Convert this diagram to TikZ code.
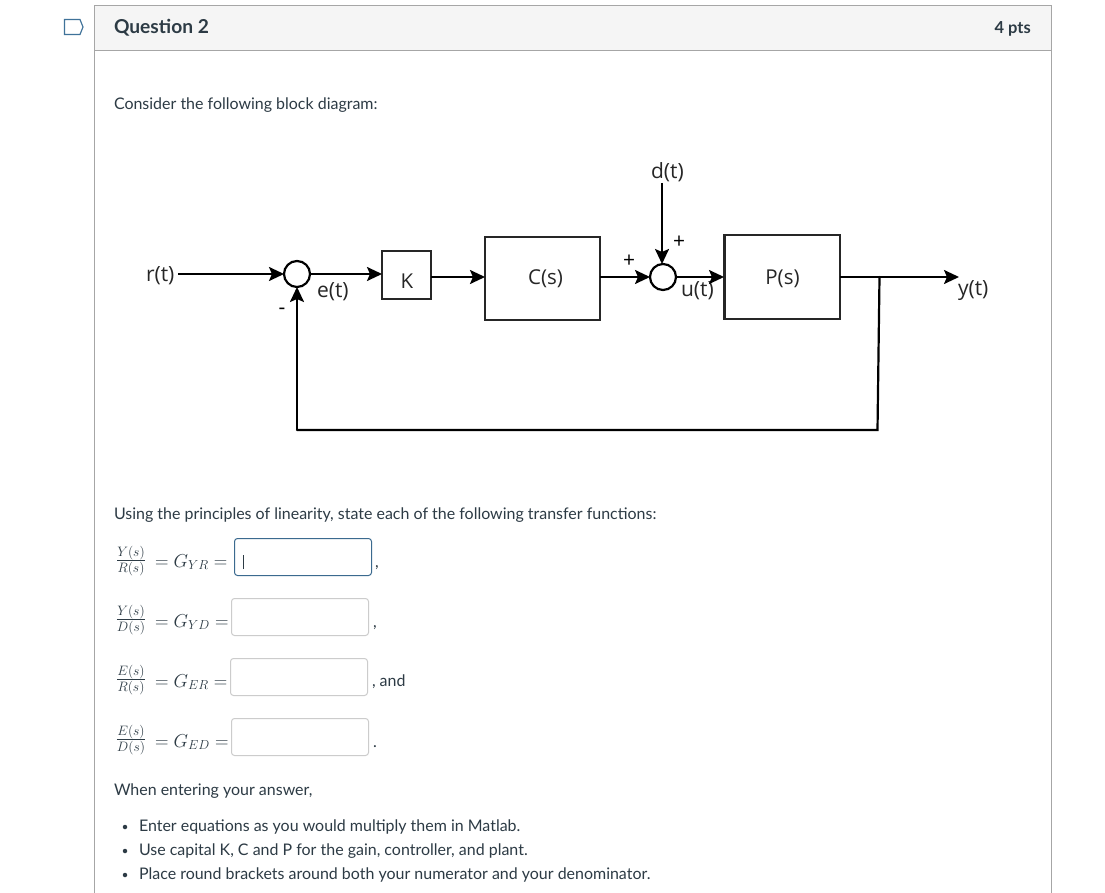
\documentclass[tikz,border=0pt]{standalone}
\usepackage{fix-cm}
\usepackage{fontspec}
\setmainfont{Lato}
\newfontfamily\diagfont{Open Sans}
\usetikzlibrary{arrows.meta}
\definecolor{ink}{HTML}{2D3B45}
\definecolor{panelline}{HTML}{A6A6A6}
\definecolor{headfill}{HTML}{F5F5F5}
\definecolor{flagblue}{HTML}{3F7299}
\definecolor{focusblue}{HTML}{3B6A8F}
\definecolor{boxgrey}{HTML}{CCCCCC}
\tikzset{
  txt/.style={anchor=base west,inner sep=0pt,outer sep=0pt,text=ink,font=\fontsize{15.97}{19}\selectfont},
  headtxt/.style={anchor=base west,inner sep=0pt,outer sep=0pt,text=ink,font=\fontsize{19.2}{24}\selectfont\bfseries},
  mathtxt/.style={anchor=center,inner sep=0pt,outer sep=0pt,text=ink,font=\fontsize{18.7}{22}\selectfont},
  fractxt/.style={anchor=center,inner sep=0pt,outer sep=0pt,text=ink,font=\fontsize{19.5}{25}\selectfont},
  lab/.style={anchor=base west,inner sep=0pt,outer sep=0pt,text=black!85,font=\diagfont\fontsize{21}{25}\selectfont},
  sign/.style={anchor=center,inner sep=0pt,outer sep=0pt,text=black,font=\diagfont\fontsize{21}{25}\selectfont},
  blockbox/.style={draw=black!85,line width=2.2pt,fill=white,inner sep=0pt,outer sep=0pt,anchor=north west},
  blocklab/.style={anchor=center,inner sep=0pt,outer sep=0pt,text=black!85,font=\diagfont\fontsize{20.5}{25}\selectfont},
  sumdot/.style={circle,draw=black,line width=2.2pt,fill=white,minimum size=26pt,inner sep=0pt,outer sep=0pt},
  wire/.style={draw=black,line width=2.2pt},
  arrowwire/.style={wire,-{Stealth[length=15pt,width=14pt,inset=3pt]}},
  inbox/.style={draw=boxgrey,line width=1pt,rounded corners=3pt,fill=white,inner sep=0pt,outer sep=0pt,anchor=north west,minimum width=137pt,minimum height=37pt},
  bul/.style={circle,fill=ink,inner sep=0pt,minimum size=4.5pt},
}
\begin{document}
\begin{tikzpicture}[x=1pt,y=-1pt]
\useasboundingbox (0,0) rectangle (1105,893);
\fill[white] (0,0) rectangle (1105,893);
% panel
\fill[headfill] (94,6) rectangle (1051,50);
\draw[panelline,line width=1pt] (94,893) -- (94,6) -- (1051,6) -- (1051,893);
\draw[panelline,line width=1pt] (94,50.5) -- (1051,50.5);
% flag
\draw[flagblue,line width=1.2pt] (64.5,19.5) -- (80,19.5) -- (83,27) -- (80,34.5) -- (64.5,34.5) -- cycle;
\node[headtxt] (qtitle) at (114,33.5) {Question 2};
\node[anchor=base east,inner sep=0pt,text=ink,font=\fontsize{16.5}{20}\selectfont\bfseries] (pts) at (1031,33.5) {4 pts};
\node[txt] (intro) at (114,109.5) {Consider the following block diagram:};
% block diagram
\node[blockbox,minimum width=49pt,minimum height=48pt] (K) at (382,251) {};
\node[blockbox,minimum width=115pt,minimum height=83pt] (C) at (485,237) {};
\node[blockbox,minimum width=115.5pt,minimum height=84pt] (P) at (724.5,235) {};
\node[blocklab] (Klab) at (407,281) {K};
\node[blocklab] (Clab) at (545.5,278.5) {C(s)};
\node[blocklab] (Plab) at (782.5,278.5) {P(s)};
\node[sumdot] (S1) at (297,274) {};
\node[sumdot] (S2) at (663,277) {};
\node[lab] (rlab) at (146,281) {r(t)};
\node[lab] (elab) at (317,297) {e(t)};
\node[lab] (ulab) at (681,296) {u(t)};
\node[lab] (ylab) at (958,295) {y(t)};
\node[lab] (dlab) at (651,179) {d(t)};
\node[sign] (minus) at (282,311) {-};
\node[sign] (plusa) at (629,261) {+};
\node[sign] (plusb) at (679,242) {+};
\coordinate (rstart) at (178,274);
\coordinate (dstart) at (662,183);
\coordinate (tap) at (879.5,277);
\coordinate (yend) at (959,277);
\coordinate (fbr) at (877.5,430);
\coordinate (fbl) at (297,430);
\coordinate (Kin) at (382,274);
\coordinate (Kout) at (431,277);
\coordinate (Cin) at (485,277);
\coordinate (Cout) at (600,277);
\coordinate (Pin) at (724,277);
\coordinate (Pout) at (840,277);
\draw[arrowwire] (rstart) -- (S1.west);
\draw[arrowwire] (S1.east) -- (Kin);
\draw[arrowwire] (Kout) -- (Cin);
\draw[arrowwire] (Cout) -- (S2.west);
\draw[arrowwire] (S2.east) -- (Pin);
\draw[arrowwire] (dstart) -- (S2.north -| dstart);
\draw[arrowwire] (Pout) -- (yend);
\draw[wire,line cap=round,line join=miter] (tap) -- (fbr) -- (fbl);
\draw[arrowwire] (fbl) -- (S1.south);
% text
\node[txt] (using) at (114,519) {Using the principles of linearity, state each of the following transfer functions:};
% equations
\node[fractxt] (f1) at (131,561) {$\frac{Y(s)}{R(s)}$};
\node[mathtxt,anchor=base west] (e1) at (155,567) {$=G_{YR}=$};
\node[inbox,draw=focusblue] (b1) at (234.5,538.5) {};
\draw[ink,line width=1pt] ([xshift=9pt,yshift=-12pt]b1.west) -- ([xshift=9pt,yshift=2pt]b1.west);
\node[txt] (c1) at (375,567) {,};
\node[fractxt] (f2) at (131,620) {$\frac{Y(s)}{D(s)}$};
\node[mathtxt,anchor=base west] (e2) at (155,627) {$=G_{YD}=$};
\node[inbox] (b2) at (231.5,598.5) {};
\node[txt] (c2) at (373,627) {,};
\node[fractxt] (f3) at (131,680) {$\frac{E(s)}{R(s)}$};
\node[mathtxt,anchor=base west] (e3) at (155,687) {$=G_{ER}=$};
\node[inbox] (b3) at (230.5,658.5) {};
\node[txt] (c3) at (372,686) {, and};
\node[fractxt] (f4) at (131,740) {$\frac{E(s)}{D(s)}$};
\node[mathtxt,anchor=base west] (e4) at (155,747) {$=G_{ED}=$};
\node[inbox] (b4) at (231.5,718.5) {};
\node[txt] (c4) at (373,747) {.};
\node[txt] (when) at (114,795) {When entering your answer,};
\node[bul] (b-a) at (125,827) {};
\node[txt] (la) at (139,831) {Enter equations as you would multiply them in Matlab.};
\node[bul] (b-b) at (125,851) {};
\node[txt] (lb) at (139,855) {Use capital K, C and P for the gain, controller, and plant.};
\node[bul] (b-c) at (125,875) {};
\node[txt] (lc) at (139,879) {Place round brackets around both your numerator and your denominator.};
\end{tikzpicture}
\end{document}
